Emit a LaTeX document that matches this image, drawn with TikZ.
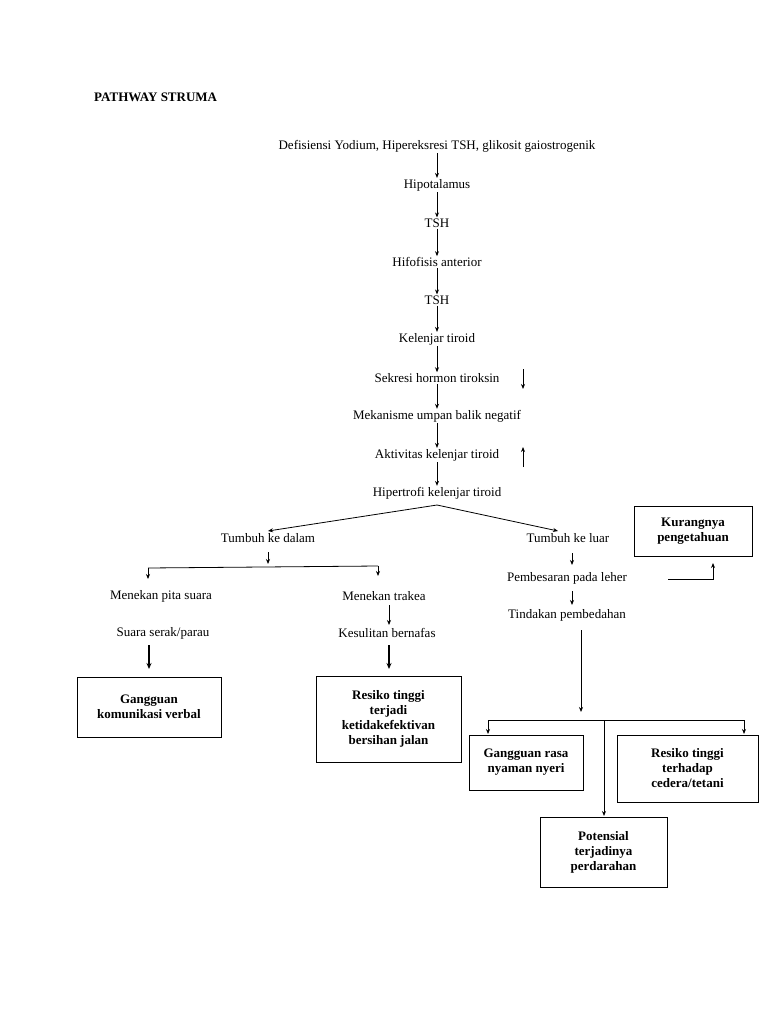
\documentclass[tikz,border=0pt]{standalone}
\usepackage{fontspec}
\setmainfont{Liberation Serif}
\usetikzlibrary{arrows.meta}
\begin{document}
\begin{tikzpicture}[x=1pt,y=-1pt,
  every node/.style={font=\fontsize{13}{15}\selectfont,inner sep=1pt},
  bx/.style={draw,line width=0.8pt,font=\fontsize{13}{15}\selectfont\bfseries,align=center,inner sep=3pt},
  ar/.style={-{Stealth[length=5pt,width=4pt]},line width=0.8pt},
  tk/.style={-{Stealth[length=6pt,width=5pt]},line width=1.3pt},
  ln/.style={line width=0.8pt}]
\useasboundingbox (0,0) rectangle (768,1024);
\node[font=\fontsize{13}{15}\selectfont\bfseries,anchor=west] (title) at (93,97) {PATHWAY STRUMA};
\node (n1) at (437,146) {Defisiensi Yodium, Hipereksresi TSH, glikosit gaiostrogenik};
\node (n2) at (437,185) {Hipotalamus};
\node (n3) at (437,223) {TSH};
\node (n4) at (437,262) {Hifofisis anterior};
\node (n5) at (437,300) {TSH};
\node (n6) at (437,339) {Kelenjar tiroid};
\node (n7) at (437,378) {Sekresi hormon tiroksin};
\node (n8) at (437,416) {Mekanisme umpan balik negatif};
\node (n9) at (437,455) {Aktivitas kelenjar tiroid};
\node (n10) at (437,493) {Hipertrofi kelenjar tiroid};
\foreach \a/\b in {n1/n2,n2/n3,n3/n4,n4/n5,n5/n6,n6/n7,n7/n8,n8/n9,n9/n10}
  \draw[ar] (\a) -- (\b);
\coordinate (d1) at (523,369); \coordinate (d2) at (523,389);
\draw[ar] (d1) -- (d2);
\coordinate (u1) at (523,467); \coordinate (u2) at (523,447);
\draw[ar] (u1) -- (u2);
\node (L) at (268,538) {Tumbuh ke dalam};
\node (R) at (568,538) {Tumbuh ke luar};
\coordinate (h) at (437,505);
\coordinate (Lt) at (268,531); \coordinate (Rt) at (558,531);
\draw[ar] (h) -- (Lt); \draw[ar] (h) -- (Rt);
\coordinate (la) at (268,552); \coordinate (lb) at (268,564);
\draw[ar] (la) -- (lb);
\coordinate (hl) at (148,568); \coordinate (hr) at (378,566);
\draw[ln] (hl) -- (hr);
\coordinate (hl2) at (148,579); \coordinate (hr2) at (378,576);
\draw[ar] (hl) -- (hl2); \draw[ar] (hr) -- (hr2);
\node (m1) at (161,596) {Menekan pita suara};
\node (m2) at (384,596) {Menekan trakea};
\node (s1) at (163,633) {Suara serak/parau};
\node (s2) at (387,633) {Kesulitan bernafas};
\coordinate (t1) at (389,605); \coordinate (t2) at (389,625);
\draw[ar] (t1) -- (t2);
\node[bx,minimum width=144pt,minimum height=60pt] (b1) at (149,707) {Gangguan\\komunikasi verbal};
\node[bx,minimum width=145pt,minimum height=86pt] (b2) at (388.5,719) {Resiko tinggi\\terjadi\\ketidakefektivan\\bersihan jalan};
\coordinate (k1) at (149,645); \coordinate (k2) at (149,669);
\coordinate (k3) at (389,645); \coordinate (k4) at (389,669);
\draw[tk] (k1) -- (k2); \draw[tk] (k3) -- (k4);
\coordinate (ra) at (572,553); \coordinate (rb) at (572,565);
\draw[ar] (ra) -- (rb);
\node (p1) at (567,578) {Pembesaran pada leher};
\coordinate (pa) at (572,591); \coordinate (pb) at (572,605);
\draw[ar] (pa) -- (pb);
\node (p2) at (567,615) {Tindakan pembedahan};
\node[bx,minimum width=118pt,minimum height=50pt] (kp) at (693,531) {Kurangnya\\pengetahuan};
\coordinate (ka) at (668,579); \coordinate (kb) at (713,579); \coordinate (kc) at (713,563);
\draw[ar] (ka) -- (kb) -- (kc);
\coordinate (v1) at (581,630); \coordinate (v2) at (581,712);
\draw[ar] (v1) -- (v2);
\coordinate (hl3) at (488,720); \coordinate (hr3) at (744,720); \coordinate (hm) at (604,720);
\draw[ln] (hl3) -- (hr3);
\coordinate (hl4) at (488,734); \coordinate (hr4) at (744,734); \coordinate (hm2) at (604,816);
\draw[ar] (hl3) -- (hl4); \draw[ar] (hr3) -- (hr4); \draw[ar] (hm) -- (hm2);
\node[bx,minimum width=114pt,minimum height=55pt] (g1) at (526,762.5) {Gangguan rasa\\nyaman nyeri};
\node[bx,minimum width=141pt,minimum height=67pt] (g2) at (687.5,768.5) {Resiko tinggi\\terhadap\\cedera/tetani};
\node[bx,minimum width=127pt,minimum height=70pt] (g3) at (603.5,852) {Potensial\\terjadinya\\perdarahan};
\end{tikzpicture}
\end{document}
